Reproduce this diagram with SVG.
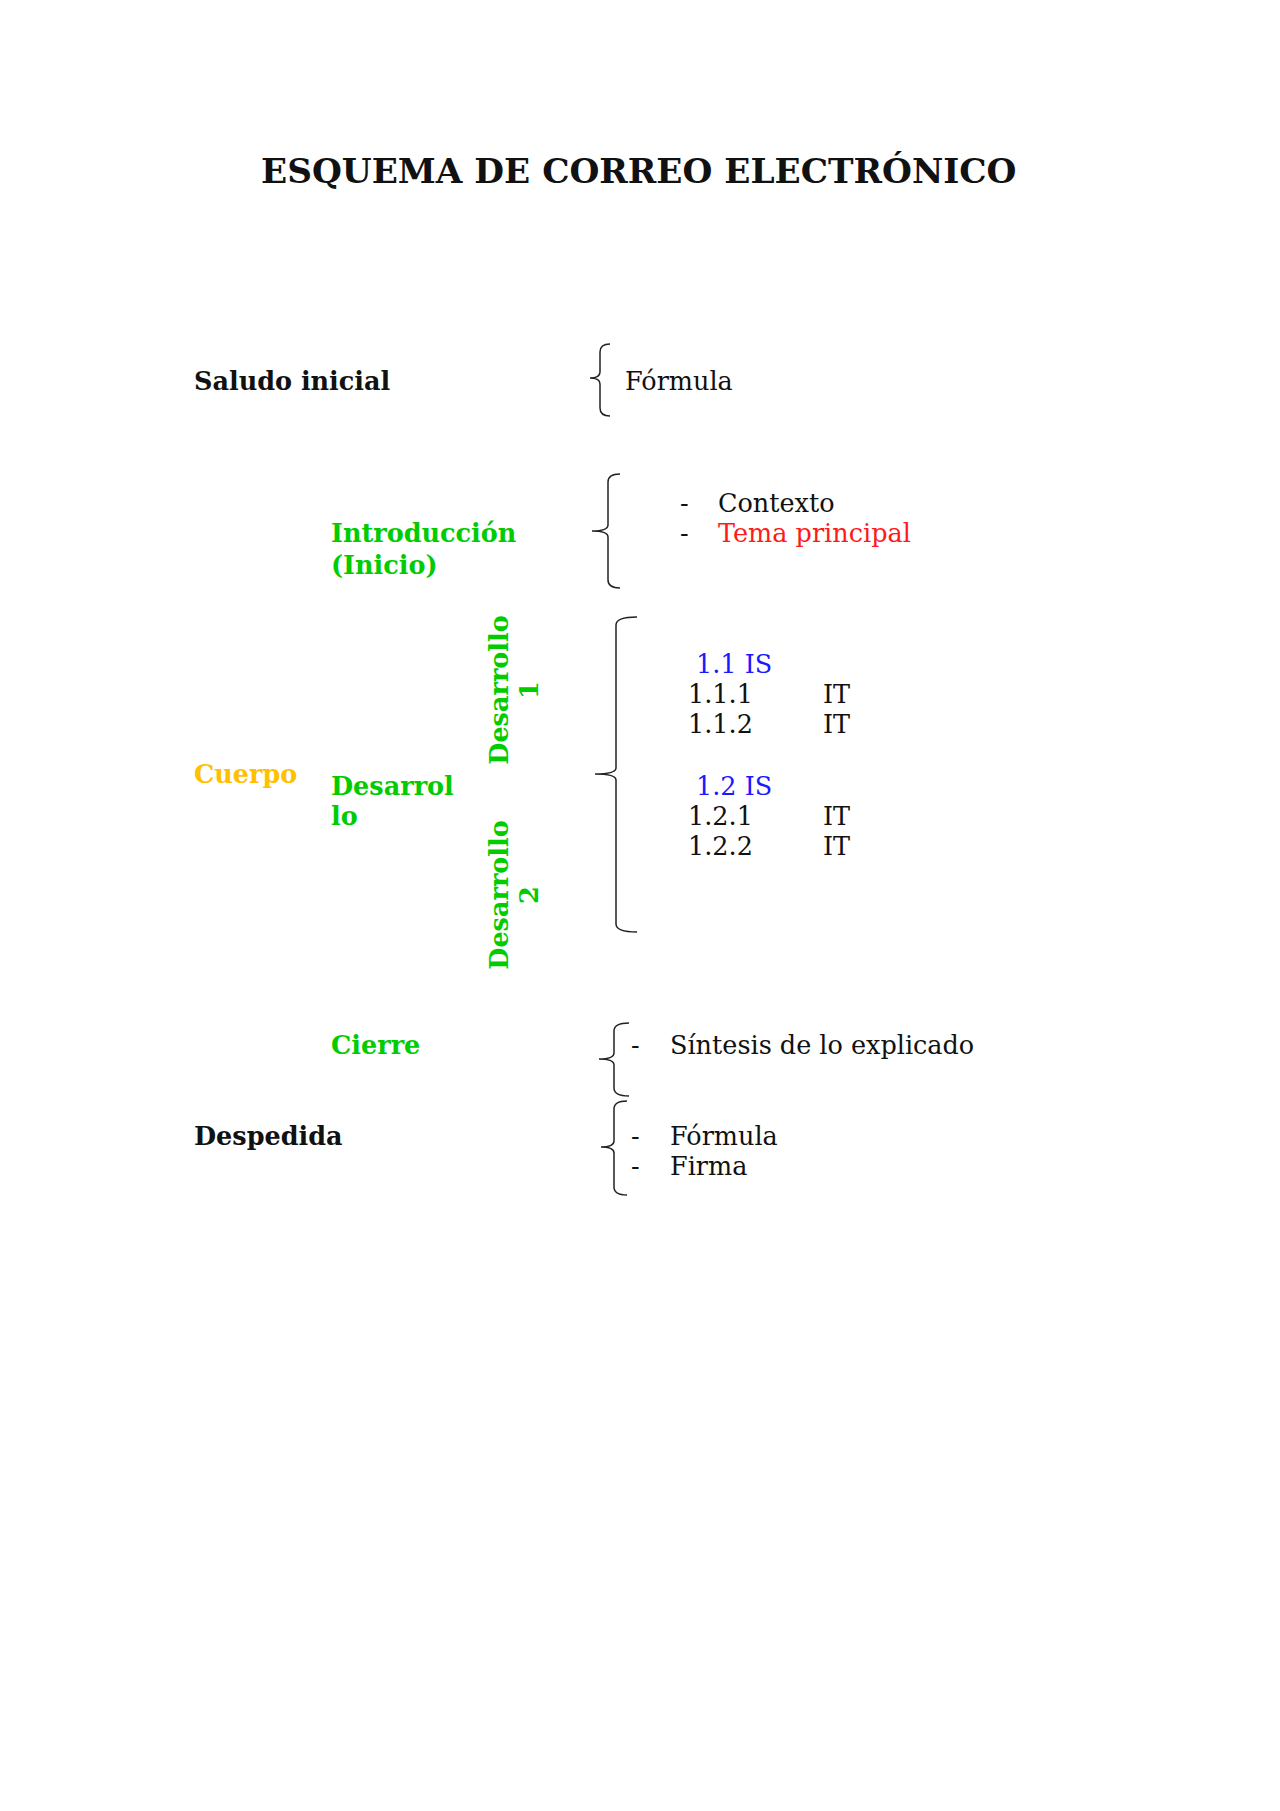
<svg xmlns="http://www.w3.org/2000/svg" width="1280" height="1811" viewBox="0 0 1280 1811">
<style>
text{font-family:"DejaVu Serif","Liberation Serif",serif;font-size:25.5px;fill:#111}
.b{font-weight:bold}
.g{fill:#00cc00;font-weight:bold}
.t{font-size:34.3px;font-weight:bold}
.bl{fill:#1a1aff}
.r{fill:#ff1a1a}
.br{fill:none;stroke:#222;stroke-width:1.5}
</style>
<rect width="1280" height="1811" fill="#fff"/>
<g transform="translate(-3 -3)">
<g id="title"><text class="t" x="264" y="186">ESQUEMA DE CORREO ELECTRÓNICO</text></g>
<g id="connectors">
<path class="br" d="M613 347 Q603 347 603 355 L603 375 Q603 381 593 381 Q603 381 603 387 L603 411 Q603 419 613 419"/>
<path class="br" d="M623 477 Q611 477 611 485 L611 528 Q611 534 595 534 Q611 534 611 540 L611 583 Q611 591 623 591"/>
<path class="br" d="M640 620 Q619 620 619 628 L619 771 Q619 777 598 777 Q619 777 619 783 L619 927 Q619 935 640 935"/>
<path class="br" d="M632 1026 Q617 1026 617 1034 L617 1056 Q617 1062 602 1062 Q617 1062 617 1068 L617 1091 Q617 1099 632 1099"/>
<path class="br" d="M630 1104 Q617 1104 617 1112 L617 1144 Q617 1150 604 1150 Q617 1150 617 1156 L617 1190 Q617 1198 630 1198"/>
</g>
<g id="saludo"><text class="b" x="197" y="393">Saludo inicial</text><text x="628" y="393">Fórmula</text></g>
<g id="intro">
<text class="g" x="334" y="545">Introducción</text><text class="g" x="334" y="577">(Inicio)</text>
<text x="683" y="515">-</text><text x="721" y="515">Contexto</text>
<text x="683" y="545">-</text><text x="721" y="545" class="r">Tema principal</text>
</g>
<g id="cuerpo"><text x="197" y="786" class="b" style="fill:#ffc000">Cuerpo</text></g>
<g id="desarrollo">
<text class="g" x="334" y="798">Desarrol</text><text class="g" x="334" y="828">lo</text>
<text class="g" text-anchor="middle" transform="translate(511 693) rotate(-90)">Desarrollo</text>
<text class="g" text-anchor="middle" transform="translate(541 693) rotate(-90)">1</text>
<text class="g" text-anchor="middle" transform="translate(511 898) rotate(-90)">Desarrollo</text>
<text class="g" text-anchor="middle" transform="translate(541 898) rotate(-90)">2</text>
<text class="bl" x="699" y="676">1.1 IS</text>
<text x="691" y="706">1.1.1</text><text x="826" y="706">IT</text>
<text x="691" y="736">1.1.2</text><text x="826" y="736">IT</text>
<text class="bl" x="699" y="798">1.2 IS</text>
<text x="691" y="828">1.2.1</text><text x="826" y="828">IT</text>
<text x="691" y="858">1.2.2</text><text x="826" y="858">IT</text>
</g>
<g id="cierre"><text class="g" x="334" y="1057">Cierre</text><text x="634" y="1057">-</text><text x="673" y="1057">Síntesis de lo explicado</text></g>
<g id="despedida"><text class="b" x="197" y="1148">Despedida</text>
<text x="634" y="1148">-</text><text x="673" y="1148">Fórmula</text>
<text x="634" y="1178">-</text><text x="673" y="1178">Firma</text></g>
</g>
</svg>
